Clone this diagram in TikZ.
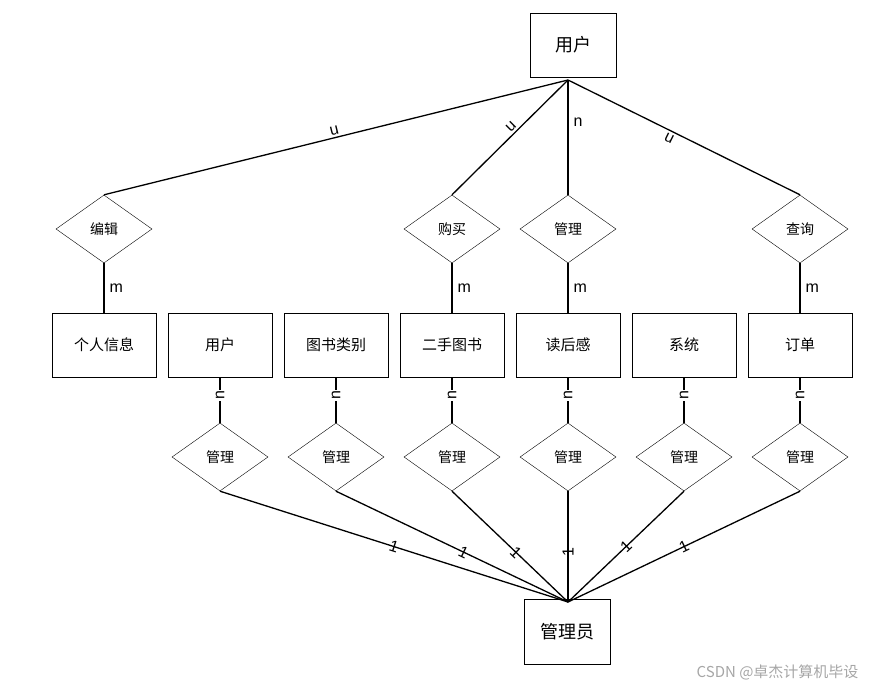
\documentclass[tikz,border=0pt]{standalone}
\usepackage{fontspec}
\setmainfont{Liberation Sans}
\newfontfamily\cjk{Noto Sans CJK SC}
\usetikzlibrary{shapes.geometric}
\begin{document}
\begin{tikzpicture}[x=1pt,y=-1pt,
  ent/.style={draw,minimum width=104pt,minimum height=64pt,font=\cjk\fontsize{15}{17}\selectfont,inner sep=0},
  rel/.style={draw,diamond,aspect=1.41,minimum width=96pt,minimum height=68pt,inner sep=0,font=\cjk\fontsize{14}{16}\selectfont},
  lbl/.style={font=\fontsize{16}{18}\selectfont,inner sep=1pt},
  ln/.style={line width=1.3pt}]
\useasboundingbox (0,0) rectangle (874,692);
\node[ent,minimum width=86pt,font=\cjk\fontsize{18}{20}\selectfont] (top) at (573,45) {用户};
\node[ent,minimum width=86pt,minimum height=65pt,font=\cjk\fontsize{18}{20}\selectfont] (adm) at (567,632) {管理员};
\coordinate (tp) at (568,80);
\coordinate (bp) at (568,602);
\node[ent] (e1) at (104,345) {个人信息};
\foreach \n/\x/\t in {e2/220/用户,e3/336/图书类别,e4/452/二手图书,e5/568/读后感,e6/684/系统,e7/800/订单}
  {\node[ent] (\n) at (\x,345) {\t};
   \node[rel] (d\n) at (\x,457) {管理};
   \draw[ln] (\n.south) -- node[lbl,rotate=90,fill=white,pos=0.4]{n} (d\n.north);
   \draw[ln] (d\n.south) -- (bp);}
\foreach \n/\x/\t in {r1/104/编辑,r4/452/购买,r5/568/管理,r7/800/查询}
  {\node[rel] (\n) at (\x,229) {\t};}
\draw[ln] (r1.south) -- node[lbl,right=4pt]{m} (e1.north);
\draw[ln] (r4.south) -- node[lbl,right=4pt]{m} (e4.north);
\draw[ln] (r5.south) -- node[lbl,right=4pt]{m} (e5.north);
\draw[ln] (r7.south) -- node[lbl,right=4pt]{m} (e7.north);
\draw[ln] (tp) -- node[lbl,pos=0.5,sloped,rotate=180,below=1pt]{n} (r1.north);
\draw[ln] (tp) -- node[lbl,pos=0.45,sloped,rotate=180,below=1pt]{n} (r4.north);
\draw[ln] (tp) -- node[lbl,pos=0.37,right=4pt]{n} (r5.north);
\draw[ln] (tp) -- node[lbl,pos=0.45,sloped,rotate=180,above=1pt]{n} (r7.north);
\path (de2.south) -- node[lbl,pos=0.5,sloped]{1} (bp);
\path (de3.south) -- node[lbl,pos=0.55,sloped]{1} (bp);
\path (de4.south) -- node[lbl,pos=0.55,sloped]{1} (bp);
\path (de5.south) -- node[lbl,pos=0.55,rotate=90]{1} (bp);
\path (de6.south) -- node[lbl,pos=0.5,sloped]{1} (bp);
\path (de7.south) -- node[lbl,pos=0.5,sloped]{1} (bp);
\draw[ln] (adm.north) -- (bp);
\node[anchor=east,text=gray!70,font=\cjk\fontsize{15}{17}\selectfont] (wm) at (862,672) {CSDN @卓杰计算机毕设};
\end{tikzpicture}
\end{document}
